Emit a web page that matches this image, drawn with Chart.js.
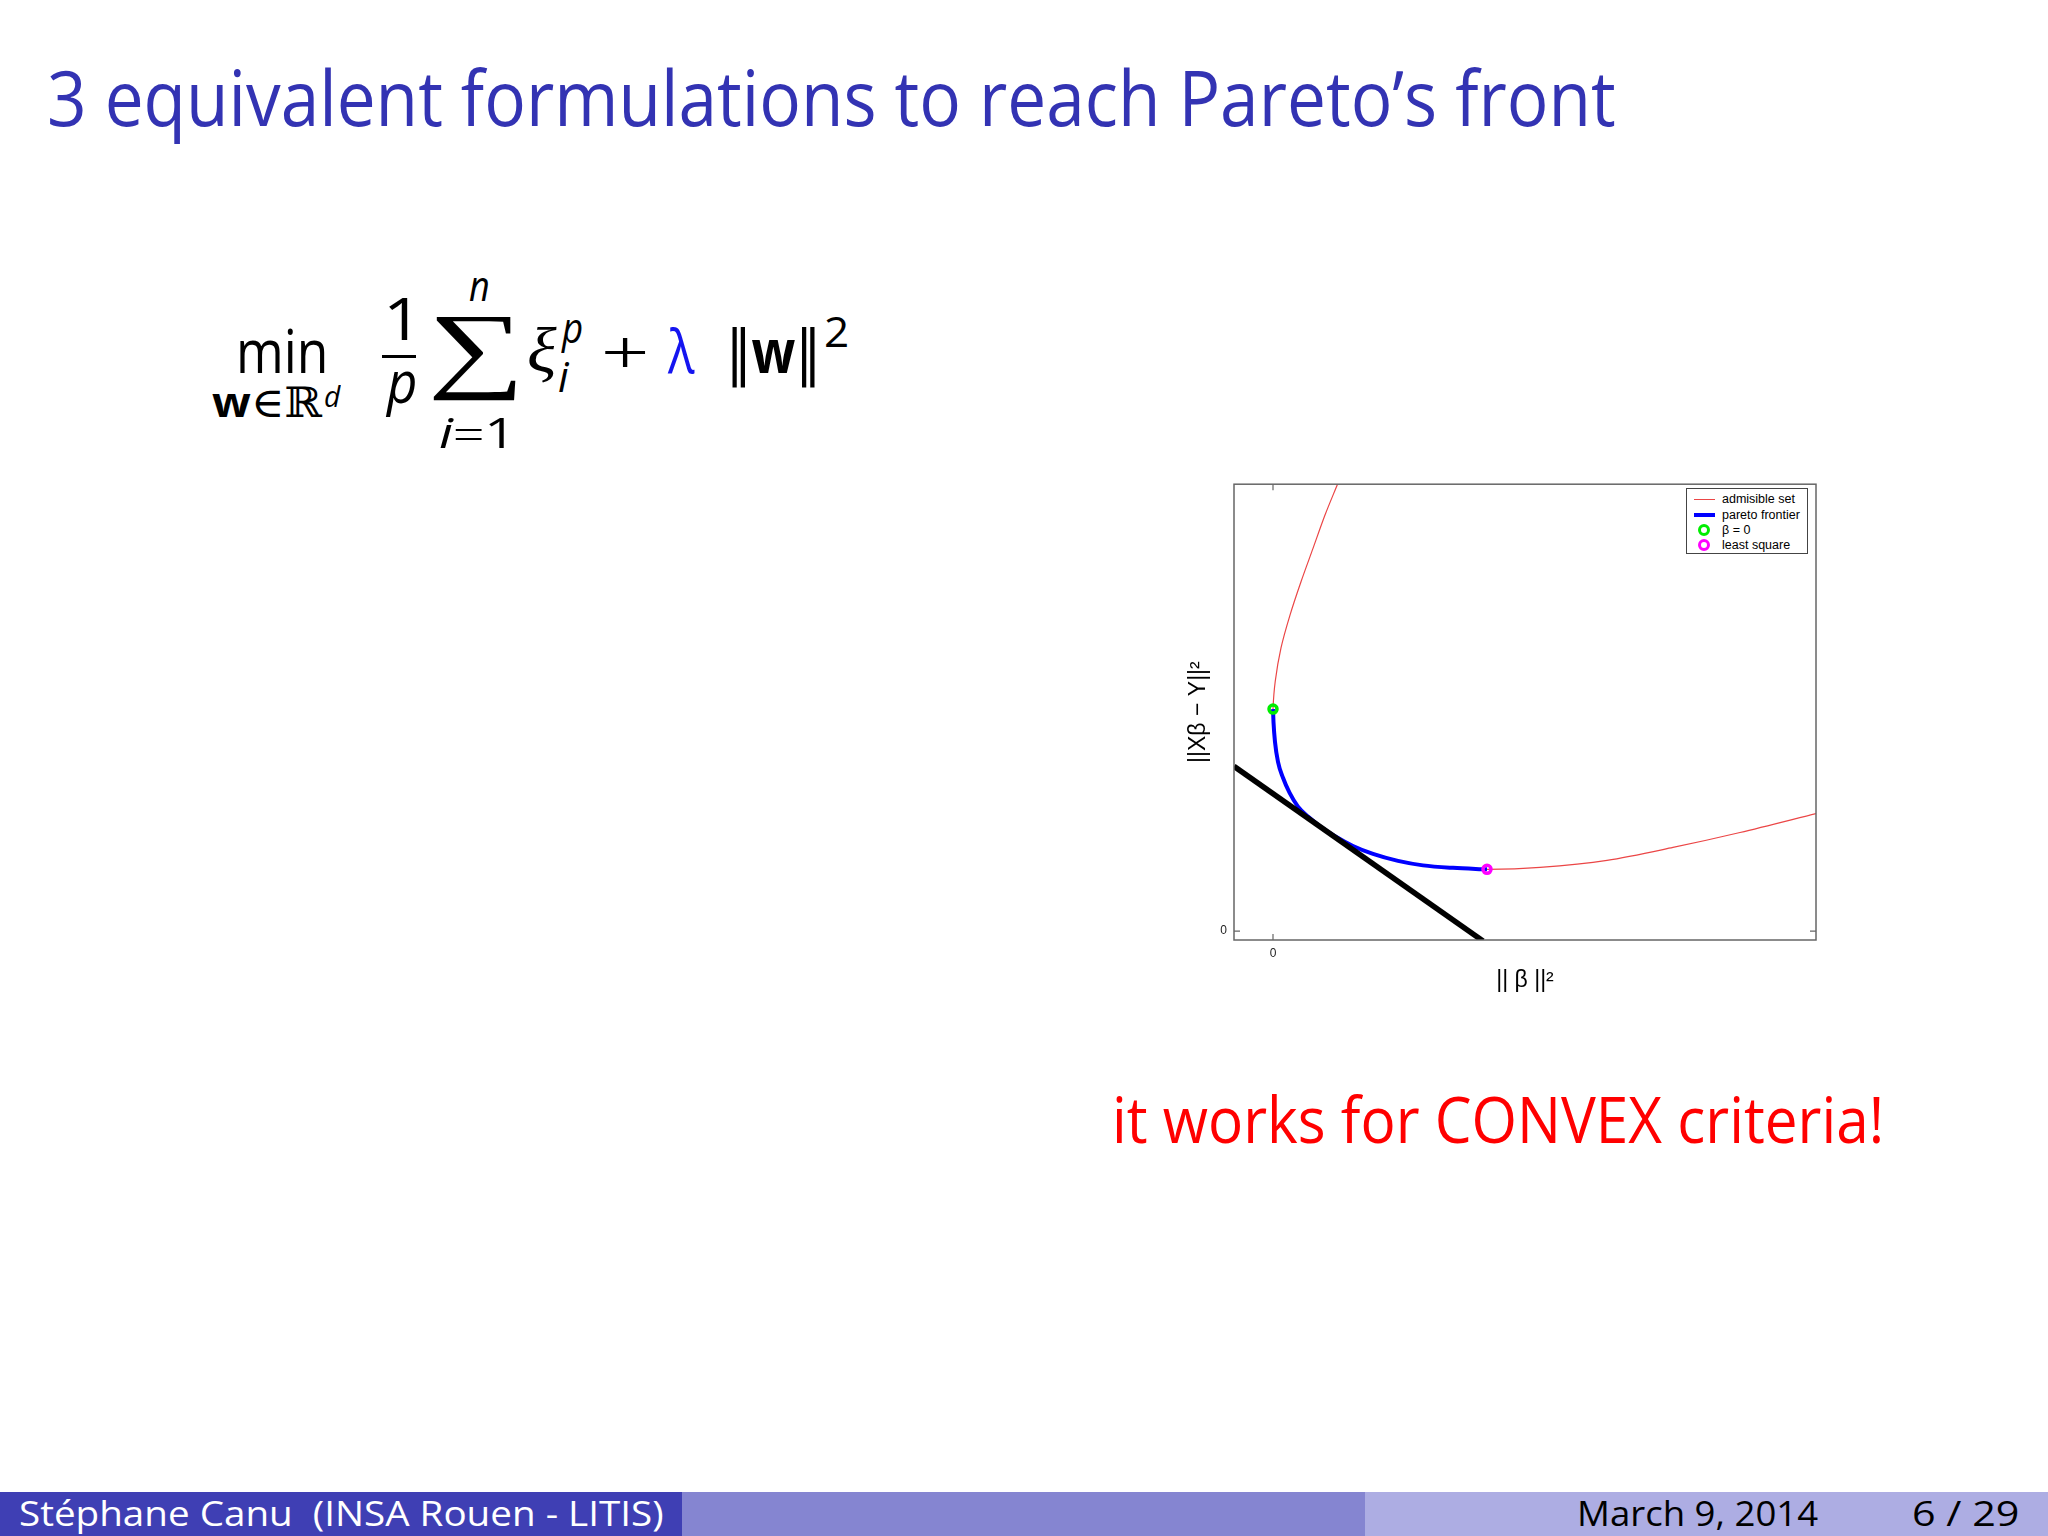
<!DOCTYPE html>
<html><head><meta charset="utf-8">
<script src="https://cdn.jsdelivr.net/npm/chart.js@4.4.1/dist/chart.umd.min.js"></script>
<style>
html,body{margin:0;padding:0;background:#fff;}
body{width:2048px;height:1536px;position:relative;overflow:hidden;font-family:"Open Sans",sans-serif;color:#000;}
.t{position:absolute;left:0;top:0;white-space:pre;line-height:0.72;transform-origin:0 0;}
.it{font-style:italic;}
.ser{font-family:"Liberation Serif",serif;}
.dj{font-family:"DejaVu Sans",sans-serif;}
.djs{font-family:"DejaVu Serif",serif;}
#legend{position:absolute;left:1686px;top:488px;width:122px;height:66px;border:1px solid #444;background:#fff;font-family:"Liberation Sans",Arial,sans-serif;font-size:12.5px;box-sizing:border-box;}
#legend .row{position:absolute;left:0;height:0;width:100%;}
#legend .lab{position:absolute;left:35px;top:-8px;line-height:16px;white-space:pre;color:#000;}
#legend .ln{position:absolute;left:7px;width:21px;}
#legend .ring{position:absolute;left:11px;top:-6px;width:12px;height:12px;border-radius:50%;box-sizing:border-box;border:3.5px solid;}
.fb{position:absolute;top:1492px;height:44px;}
</style></head><body>

<div class="t" id="title" style="font-size:76px;color:#3333b3">3 equivalent formulations to reach Pareto’s front</div>

<div class="t" id="m_min" style="font-size:60px">min</div>
<div class="t" id="m_sub" data-mixed="1" style="font-size:42px"><b>w</b><span class="djs">∈ℝ</span></div>
<div class="t it" id="m_d" style="font-size:30px">d</div>
<div class="t" id="m_one" style="font-size:58px">1</div>
<div id="m_bar" style="position:absolute;left:382px;top:355px;width:34px;height:3px;background:#000"></div>
<div class="t it" id="m_pden" style="font-size:58px">p</div>
<div class="t ser" id="m_sum" style="font-size:110px">∑</div>
<div class="t it" id="m_n" style="font-size:42px">n</div>
<div class="t" id="m_ieq" data-mixed="1" style="font-size:42px"><i>i</i><span class="ser">=</span>1</div>
<div class="t ser it" id="m_xi" style="font-size:64px">ξ</div>
<div class="t it" id="m_supp" style="font-size:42px">p</div>
<div class="t it" id="m_subi" style="font-size:42px">i</div>
<div class="t ser" id="m_plus" style="font-size:62px">+</div>
<div class="t" id="m_lam" style="font-size:60px;color:#1515f0">λ</div>
<div class="t" id="m_norm" data-mixed="1" style="font-size:60px"><span class="dj">‖</span><b>w</b><span class="dj">‖</span></div>
<div class="t" id="m_sq" style="font-size:42px">2</div>

<div style="position:absolute;left:1150px;top:470px;width:700px;height:540px"><canvas id="c" width="700" height="540" style="width:700px;height:540px"></canvas></div>
<div id="legend"></div>

<div class="t" id="red" style="font-size:64px;color:#ff0000">it works for CONVEX criteria!</div>

<div class="fb" style="left:0;width:682px;background:#3f3fb4"></div>
<div class="fb" style="left:682px;width:683px;background:#8585d1"></div>
<div class="fb" style="left:1365px;width:683px;background:#adade3"></div>
<div class="t" id="f1" style="font-size:35px;color:#fff">Stéphane Canu  (INSA Rouen - LITIS)</div>
<div class="t" id="f2" style="font-size:35px;color:#000">March 9, 2014</div>
<div class="t" id="f3" style="font-size:35px;color:#000">6 / 29</div>

<script>
// ---- data ----
const xRange = [-0.78, 10.86];
const yRange = [-0.18, 8.98];
const xTicks = [0];
const yTicks = [0];
const admissibleUpperX = [1.29, 1.04, 0.80, 0.56, 0.34, 0.16, 0.045];
const admissibleUpperY = [8.98, 8.36, 7.69, 7.02, 6.35, 5.69, 5.02];
const paretoX = [0, 0.01, 0.04, 0.1, 0.2, 0.33, 0.5, 0.7, 0.95, 1.25, 1.6, 2.0, 2.5, 3.0, 3.6, 4.28];
const paretoY = [4.46, 4.2, 3.8, 3.4, 3.08, 2.78, 2.5, 2.3, 2.1, 1.9, 1.71, 1.55, 1.41, 1.32, 1.27, 1.24];
const admissibleRightX = [5.34, 6.68, 8.0, 9.34, 10.86];
const admissibleRightY = [1.28, 1.42, 1.68, 1.98, 2.36];
const tangentX = [-0.78, 4.2];
const tangentY = [3.31, -0.2];
const betaZero = [0, 4.46];
const leastSquare = [4.28, 1.24];
const legendLabels = ['admisible set', 'pareto frontier', 'β = 0', 'least square'];
const xTitle = '|| β ||²';
const yTitle = '||Xβ − Y||²';

const pts = (xs, ys) => xs.map((x, i) => ({x, y: ys[i]}));
const admissiblePts = [].concat(pts(admissibleUpperX, admissibleUpperY), pts(paretoX, paretoY), pts(admissibleRightX, admissibleRightY));

const framePlugin = {
  id: 'frame',
  afterDatasetsDraw(chart) {
    const {ctx, chartArea: a, scales: {x, y}} = chart;
    ctx.save();
    ctx.strokeStyle = '#666';
    ctx.lineWidth = 1.5;
    ctx.strokeRect(a.left, a.top, a.right - a.left, a.bottom - a.top);
    ctx.beginPath();
    xTicks.forEach(v => { const p = x.getPixelForValue(v); ctx.moveTo(p, a.bottom); ctx.lineTo(p, a.bottom - 6); ctx.moveTo(p, a.top); ctx.lineTo(p, a.top + 6); });
    yTicks.forEach(v => { const p = y.getPixelForValue(v); ctx.moveTo(a.left, p); ctx.lineTo(a.left + 6, p); ctx.moveTo(a.right, p); ctx.lineTo(a.right - 6, p); });
    ctx.lineWidth = 1.2;
    ctx.stroke();
    ctx.restore();
  }
};

const tickFont = {family: 'Liberation Sans', size: 12};
const titleFont = {family: 'Liberation Sans', size: 23};

new Chart(document.getElementById('c'), {
  type: 'scatter',
  data: {datasets: [
    {label: legendLabels[0], data: admissiblePts, showLine: true, borderColor: 'rgb(235,70,70)', borderWidth: 1.2, pointRadius: 0, tension: 0.3, clip: 0, order: 5},
    {label: legendLabels[1], data: pts(paretoX, paretoY), showLine: true, borderColor: '#0000ff', borderWidth: 4, pointRadius: 0, cubicInterpolationMode: 'monotone', clip: 0, order: 4},
    {label: 'tangent', data: pts(tangentX, tangentY), showLine: true, borderColor: '#000', borderWidth: 5.5, pointRadius: 0, clip: 0, order: 3},
    {label: legendLabels[2], data: [{x: betaZero[0], y: betaZero[1]}], pointRadius: 4, pointBorderWidth: 3.5, pointBorderColor: '#00ee00', pointBackgroundColor: 'rgba(0,0,0,0)', order: 1},
    {label: legendLabels[3], data: [{x: leastSquare[0], y: leastSquare[1]}], pointRadius: 4, pointBorderWidth: 3.5, pointBorderColor: '#ff00ff', pointBackgroundColor: 'rgba(0,0,0,0)', order: 1}
  ]},
  options: {
    responsive: false, animation: false, events: [],
    layout: {padding: {top: 12, right: 34, bottom: 0, left: 0}},
    plugins: {legend: {display: false}, tooltip: {enabled: false}},
    scales: {
      x: {type: 'linear', min: xRange[0], max: xRange[1],
        afterBuildTicks: s => { s.ticks = xTicks.map(v => ({value: v})); },
        ticks: {callback: v => String(v), font: tickFont, color: '#222', padding: 6, maxRotation: 0, autoSkip: false},
        grid: {display: false, drawTicks: false}, border: {display: false},
        title: {display: true, text: xTitle, font: titleFont, color: '#000', padding: {top: 0, bottom: 16}},
        afterFit: s => { s.height = 70; }},
      y: {type: 'linear', min: yRange[0], max: yRange[1],
        afterBuildTicks: s => { s.ticks = yTicks.map(v => ({value: v})); },
        ticks: {callback: v => String(v), font: tickFont, color: '#222', padding: 7, autoSkip: false},
        grid: {display: false, drawTicks: false}, border: {display: false},
        title: {display: true, text: yTitle, font: titleFont, color: '#000', padding: {top: 35, bottom: 0}},
        afterFit: s => { s.width = 84; }}
    }
  },
  plugins: [framePlugin]
});

// legend (HTML)
(function () {
  const lg = document.getElementById('legend');
  const rows = [10, 25.5, 41, 56];
  const samples = [
    '<div class="ln" style="top:-0.5px;height:1px;background:rgb(235,70,70)"></div>',
    '<div class="ln" style="top:-2px;height:4px;background:#0000ff"></div>',
    '<div class="ring" style="border-color:#00ee00"></div>',
    '<div class="ring" style="border-color:#ff00ff"></div>'
  ];
  lg.innerHTML = legendLabels.map((l, i) => '<div class="row" style="top:' + rows[i] + 'px">' + samples[i] + '<div class="lab">' + l + '</div></div>').join('');
})();

// text placement
const cnv = document.createElement('canvas').getContext('2d');
function fontOf(el) {
  const cs = getComputedStyle(el);
  return cs.fontStyle + ' ' + cs.fontWeight + ' ' + cs.fontSize + ' ' + cs.fontFamily;
}
function baseOff(el) {
  const mk = document.createElement('span');
  mk.style.cssText = 'display:inline-block;width:0;height:0;vertical-align:baseline';
  el.appendChild(mk);
  const b = mk.offsetTop;
  el.removeChild(mk);
  return b;
}
function place(id, x, base, w) {
  const el = document.getElementById(id);
  el.style.transform = 'none';
  const b = baseOff(el);
  let s = 1, left = x;
  if (el.dataset.mixed) {
    const ww = el.getBoundingClientRect().width;
    if (w) s = w / ww;
  } else {
    cnv.font = fontOf(el);
    const m = cnv.measureText(el.textContent);
    const inkW = m.actualBoundingBoxLeft + m.actualBoundingBoxRight;
    if (w) s = w / inkW;
    left = x + m.actualBoundingBoxLeft * s;
  }
  el.style.left = left + 'px';
  el.style.top = (base - b) + 'px';
  el.style.transform = 'scale(' + s + ',1)';
}
// place a single glyph by its ink box (left, top, width, height)
function placeBox(id, x, top, w, h) {
  const el = document.getElementById(id);
  el.style.transform = 'none';
  cnv.font = fontOf(el);
  let m = cnv.measureText(el.textContent);
  const fs0 = parseFloat(getComputedStyle(el).fontSize);
  const inkH = m.actualBoundingBoxAscent + m.actualBoundingBoxDescent;
  el.style.fontSize = (fs0 * h / inkH) + 'px';
  cnv.font = fontOf(el);
  m = cnv.measureText(el.textContent);
  const b = baseOff(el);
  const s = w / (m.actualBoundingBoxLeft + m.actualBoundingBoxRight);
  el.style.left = (x + m.actualBoundingBoxLeft * s) + 'px';
  el.style.top = (top + m.actualBoundingBoxAscent - b) + 'px';
  el.style.transform = 'scale(' + s + ',1)';
}
function layout() {
  place('title', 50, 126, 1565);
  place('m_min', 240, 373, 84);
  place('m_sub', 212, 417, 110);
  place('m_d', 325, 407, 16);
  place('m_one', 389, 340, 19);
  place('m_pden', 385, 403, 30);
  placeBox('m_sum', 434, 316, 82, 85);
  place('m_n', 470, 301, 18);
  place('m_ieq', 439, 448, 77);
  place('m_xi', 529, 372, 28);
  place('m_supp', 561, 343, 21);
  place('m_subi', 559, 392, 11);
  place('m_plus', 605, 373, 40);
  place('m_lam', 667, 373, 28);
  place('m_norm', 726, 373, 95);
  place('m_sq', 826, 347, 21);
  place('red', 1117, 1143, 764);
  place('f1', 20, 1526, 642);
  place('f2', 1580, 1526, 238);
  place('f3', 1913, 1526, 105);
}
layout();
if (document.fonts && document.fonts.ready) document.fonts.ready.then(layout);
</script>
</body></html>
